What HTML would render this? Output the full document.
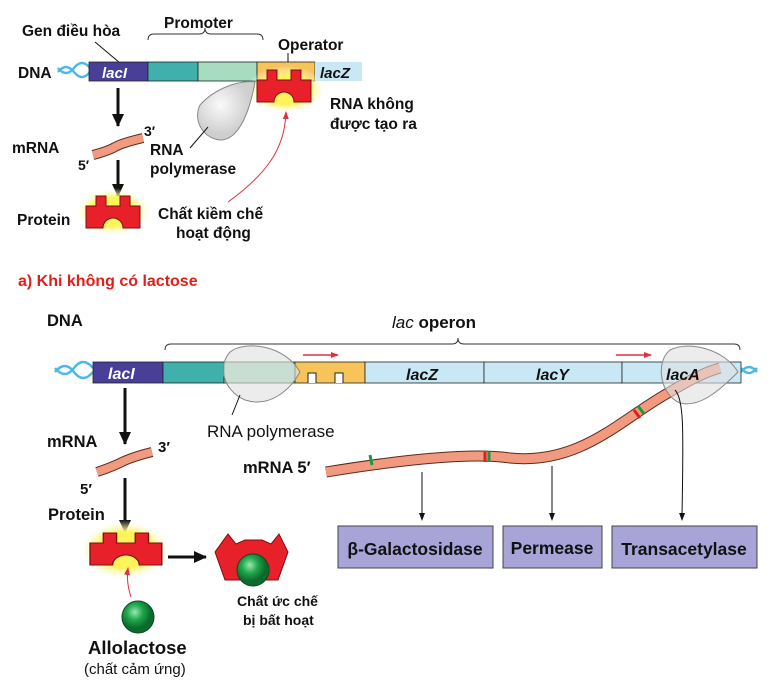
<!DOCTYPE html>
<html><head><meta charset="utf-8"><style>body{margin:0;background:#fff}svg{display:block}text{font-family:"Liberation Sans",sans-serif;font-weight:bold;fill:#111}</style></head><body>
<svg width="784" height="687" viewBox="0 0 784 687" xmlns="http://www.w3.org/2000/svg">
<defs>
<path id="rep" d="M0,10 H10 V0 H20 V10 H34 V0 H44 V10 H54 V32 H37 A10,10 0 0 0 17,32 H0 Z" fill="#e8202a" stroke="#7a1010" stroke-width="1"/>
<radialGradient id="glow"><stop offset="0.6" stop-color="#fff35a"/><stop offset="1" stop-color="#fff" stop-opacity="0"/></radialGradient>
<radialGradient id="ball" cx="0.4" cy="0.35"><stop offset="0" stop-color="#9be8b0"/><stop offset="0.5" stop-color="#1fa84c"/><stop offset="1" stop-color="#0c6a2c"/></radialGradient>
<radialGradient id="pol" cx="0.4" cy="0.4"><stop offset="0" stop-color="#fafafa"/><stop offset="1" stop-color="#cfcfcf"/></radialGradient>
<marker id="ah" markerUnits="userSpaceOnUse" markerWidth="14" markerHeight="14" refX="12" refY="7" orient="auto"><path d="M0,1 L13,7 L0,13 Z" fill="#111"/></marker>
<marker id="ahs" markerUnits="userSpaceOnUse" markerWidth="8" markerHeight="8" refX="7" refY="4" orient="auto"><path d="M0,1 L8,4 L0,7 Z" fill="#111"/></marker>
<marker id="ahr" markerUnits="userSpaceOnUse" markerWidth="8" markerHeight="8" refX="7" refY="4" orient="auto"><path d="M0,1 L8,4 L0,7 Z" fill="#e03040"/></marker>
</defs>
<!-- TOP -->
<text x="22" y="36" font-size="15.5">Gen điều hòa</text>
<text x="164" y="28" font-size="15.5">Promoter</text>
<path d="M148,40 q0,-6 6,-6 h45 q6,0 6,-6 q0,6 6,6 h46 q6,0 6,6" fill="none" stroke="#333"/>
<text x="278" y="50" font-size="15.5">Operator</text>
<line x1="95" y1="42" x2="120" y2="63" stroke="#111"/>
<line x1="288" y1="53" x2="288" y2="63" stroke="#111"/>
<text x="18" y="78" font-size="15.5">DNA</text>
<path d="M58,72 q8,-10 16,0 t16,0 M58,68 q8,10 16,0 t16,0" fill="none" stroke="#4ab8e8" stroke-width="2.5"/>
<rect x="89" y="62" width="59" height="19" fill="#4a3f98" stroke="#222" stroke-width="0.8"/>
<text x="102" y="78" font-size="15" font-style="italic" style="fill:#fff">lacI</text>
<rect x="148" y="62" width="50" height="19" fill="#3fb0ac" stroke="#222" stroke-width="0.8"/>
<rect x="198" y="62" width="59" height="19" fill="#a8dcc0" stroke="#222" stroke-width="0.8"/>
<rect x="257" y="62" width="58" height="19" fill="#f7c45a" stroke="#222" stroke-width="0.8"/>
<rect x="315" y="62" width="47" height="19" fill="#c9e8f5"/>
<text x="320" y="78" font-size="15" font-style="italic">lacZ</text>
<ellipse cx="286" cy="90" rx="40" ry="24" fill="url(#glow)"/>
<use href="#rep" x="257" y="70"/>
<path d="M255,82 C240,80 215,88 200,105 C192,122 205,140 222,140 C240,138 250,110 255,82 Z" fill="url(#pol)" stroke="#888"/>
<line x1="208" y1="127" x2="190" y2="148" stroke="#111"/>
<text x="150" y="155" font-size="15.5">RNA</text>
<text x="150" y="174" font-size="15.5">polymerase</text>
<text x="330" y="109" font-size="15.5">RNA không</text>
<text x="330" y="129" font-size="15.5">được tạo ra</text>
<line x1="118" y1="88" x2="118" y2="126" stroke="#111" stroke-width="3" marker-end="url(#ah)"/>
<text x="12" y="153" font-size="15.5">mRNA</text>
<path d="M93,155 q15,-4 22,-8 t28,-9" fill="none" stroke="#5a2a1a" stroke-width="10"/>
<path d="M93,155 q15,-4 22,-8 t28,-9" fill="none" stroke="#f09a80" stroke-width="8"/>
<text x="144" y="136" font-size="14">3′</text>
<text x="78" y="170" font-size="14">5′</text>
<line x1="118" y1="160" x2="118" y2="196" stroke="#111" stroke-width="3" marker-end="url(#ah)"/>
<text x="17" y="225" font-size="15.5">Protein</text>
<ellipse cx="113" cy="212" rx="38" ry="24" fill="url(#glow)"/>
<use href="#rep" x="86" y="196"/>
<path d="M228,202 C265,175 285,150 286,112" fill="none" stroke="#e03040" marker-end="url(#ahr)"/>
<text x="158" y="219" font-size="15.5">Chất kiềm chế</text>
<text x="176" y="238" font-size="15.5">hoạt động</text>
<text x="18" y="286" font-size="16" style="fill:#e0201a">a) Khi không có lactose</text>
<!-- BOTTOM -->
<text x="47" y="326" font-size="16.5">DNA</text>
<text x="392" y="328" font-size="17"><tspan font-style="italic" style="font-weight:normal">lac</tspan> operon</text>
<path d="M165,350 q0,-6 6,-6 h281 q6,0 6,-6 q0,6 6,6 h270 q6,0 6,6" fill="none" stroke="#333"/>
<path d="M55,372 q10,-12 19,0 t19,0 M55,368 q10,12 19,0 t19,0 M741,372 q8,-10 16,0 M741,368 q8,10 16,0" fill="none" stroke="#4ab8e8" stroke-width="2.5"/>
<rect x="93" y="362" width="70" height="21" fill="#4a3f98" stroke="#222" stroke-width="0.8"/>
<text x="108" y="379" font-size="16" font-style="italic" style="fill:#fff">lacI</text>
<rect x="163" y="362" width="61" height="21" fill="#3fb0ac" stroke="#222" stroke-width="0.8"/>
<rect x="224" y="362" width="71" height="21" fill="#a8dcc0" stroke="#222" stroke-width="0.8"/>
<rect x="295" y="362" width="70" height="21" fill="#f7c45a" stroke="#222" stroke-width="0.8"/>
<path d="M308,383 v-10 h8 v10 M335,383 v-10 h8 v10" fill="#fff" stroke="#222"/>
<rect x="365" y="362" width="119" height="21" fill="#c9e8f5" stroke="#222" stroke-width="0.8"/>
<rect x="484" y="362" width="138" height="21" fill="#c9e8f5" stroke="#222" stroke-width="0.8"/>
<rect x="622" y="362" width="119" height="21" fill="#c9e8f5" stroke="#222" stroke-width="0.8"/>
<text x="406" y="380" font-size="16" font-style="italic">lacZ</text>
<text x="536" y="380" font-size="16" font-style="italic">lacY</text>
<path d="M300,372 C285,345 245,340 230,352 C218,365 222,390 245,400 C270,408 290,390 300,372 Z" fill="#e0e0e0" fill-opacity="0.6" stroke="#888"/>
<line x1="240" y1="395" x2="232" y2="415" stroke="#111"/>
<text x="207" y="437" font-size="17" style="font-weight:normal">RNA polymerase</text>
<path d="M303,355 h35" stroke="#e03040" stroke-width="1.5" marker-end="url(#ahr)"/>
<path d="M616,355 h35" stroke="#e03040" stroke-width="1.5" marker-end="url(#ahr)"/>
<path d="M326,472 C400,460 470,452 510,458 C580,465 620,420 668,393 C690,380 705,372 720,368" fill="none" stroke="#5a2a1a" stroke-width="11"/>
<path d="M326,472 C400,460 470,452 510,458 C580,465 620,420 668,393 C690,380 705,372 720,368" fill="none" stroke="#f29a80" stroke-width="9"/>
<line x1="370" y1="455" x2="372" y2="465" stroke="#1a9a40" stroke-width="3"/>
<line x1="485" y1="452" x2="485" y2="462" stroke="#e0201a" stroke-width="3"/>
<line x1="489" y1="452" x2="489" y2="462" stroke="#1a9a40" stroke-width="3"/>
<line x1="634" y1="410" x2="640" y2="418" stroke="#e0201a" stroke-width="3"/>
<line x1="638" y1="406" x2="644" y2="414" stroke="#1a9a40" stroke-width="3"/>
<path d="M738,372 C725,350 690,340 670,350 C655,362 660,395 680,403 C700,408 720,390 738,372 Z" fill="#e0e0e0" fill-opacity="0.6" stroke="#888"/>
<text x="666" y="380" font-size="16" font-style="italic">lacA</text>
<text x="243" y="473" font-size="16.5">mRNA 5′</text>
<path d="M675,390 C685,400 683,440 682,520" fill="none" stroke="#111" marker-end="url(#ahs)"/>
<line x1="422" y1="472" x2="422" y2="520" stroke="#111" marker-end="url(#ahs)"/>
<line x1="552" y1="466" x2="552" y2="520" stroke="#111" marker-end="url(#ahs)"/>
<rect x="338" y="526" width="155" height="42" fill="#a8a4d8" stroke="#444"/>
<rect x="503" y="526" width="99" height="42" fill="#a8a4d8" stroke="#444"/>
<rect x="612" y="526" width="145" height="42" fill="#a8a4d8" stroke="#444"/>
<text x="415" y="555" font-size="17.5" text-anchor="middle">β-Galactosidase</text>
<text x="552" y="554" font-size="17.5" text-anchor="middle">Permease</text>
<text x="684" y="555" font-size="17.5" text-anchor="middle">Transacetylase</text>
<line x1="125" y1="388" x2="125" y2="444" stroke="#111" stroke-width="3" marker-end="url(#ah)"/>
<text x="47" y="447" font-size="16.5">mRNA</text>
<path d="M97,472 q15,-5 25,-10 t30,-10" fill="none" stroke="#5a2a1a" stroke-width="10"/>
<path d="M97,472 q15,-5 25,-10 t30,-10" fill="none" stroke="#f09a80" stroke-width="8"/>
<text x="158" y="452" font-size="15">3′</text>
<text x="80" y="494" font-size="15">5′</text>
<line x1="125" y1="478" x2="125" y2="532" stroke="#111" stroke-width="3" marker-end="url(#ah)"/>
<text x="48" y="520" font-size="16.5">Protein</text>
<ellipse cx="125" cy="550" rx="46" ry="30" fill="url(#glow)"/>
<use href="#rep" transform="translate(90,533) scale(1.33,1.0)"/>
<line x1="168" y1="557" x2="206" y2="557" stroke="#111" stroke-width="3" marker-end="url(#ah)"/>
<path d="M215,552 L228,534 L236,544 L245,540 L262,540 L271,544 L279,534 L288,552 L278,580 L225,580 Z" fill="#e8202a" stroke="#7a1010"/>
<circle cx="253" cy="570" r="16" fill="url(#ball)" stroke="#0a4a20"/>
<text x="237" y="606" font-size="14">Chất ức chế</text>
<text x="243" y="625" font-size="14">bị bất hoạt</text>
<path d="M131,597 C127,585 127,575 128,568" fill="none" stroke="#e03040" marker-end="url(#ahr)"/>
<circle cx="138" cy="617" r="16" fill="url(#ball)" stroke="#0a4a20"/>
<text x="88" y="654" font-size="18.5">Allolactose</text>
<text x="84" y="674" font-size="15" style="font-weight:normal">(chất cảm ứng)</text>
</svg>
</body></html>
